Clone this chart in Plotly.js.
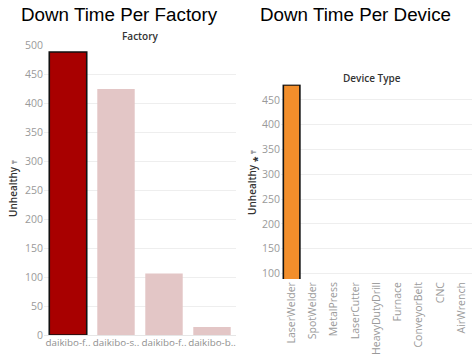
<!DOCTYPE html>
<html>
<head>
<meta charset="utf-8">
<script src="https://cdn.plot.ly/plotly-3.0.1.min.js"></script>
<style>html,body{margin:0;padding:0;background:#fff;}#chart{width:474px;height:357px;}</style>
</head>
<body>
<div id="chart"></div>
<script>
// Data
var factories = ["daikibo-f..a", "daikibo-s..", "daikibo-f..b", "daikibo-b.."];
var factoryLabels = ["daikibo-f..", "daikibo-s..", "daikibo-f..", "daikibo-b.."];
var factoryDowntime = [488, 424, 106, 14];
var devices = ["LaserWelder", "SpotWelder", "MetalPress", "LaserCutter", "HeavyDutyDrill", "Furnace", "ConveyorBelt", "CNC", "AirWrench"];
var deviceDowntime = [480, 0, 0, 0, 0, 0, 0, 0, 0];

var factoryColors = factoryDowntime.map(function(v, i){ return i === 0 ? "#a80000" : "#e3c6c6"; });
var factoryLines = factoryDowntime.map(function(v, i){ return i === 0 ? 1.6 : 0; });
var deviceColors = devices.map(function(){ return "#f28e2b"; });

var tickFont = {family: "Open Sans, sans-serif", size: 10.5, color: "#9a9a9a"};
var xTickFont = {family: "Open Sans, sans-serif", size: 9.8, color: "#8f8f8f"};
var titleFont = {family: "Open Sans, sans-serif", size: 10, color: "#333", weight: 600};
var bigFont = {family: "Liberation Sans, Arial, sans-serif", size: 18.8, color: "#000"};

var data = [
  {type: "bar", x: factories, y: factoryDowntime, xaxis: "x", yaxis: "y",
   marker: {color: factoryColors, line: {color: "#111", width: factoryLines}}, hoverinfo: "none"},
  {type: "bar", x: devices, y: deviceDowntime, xaxis: "x2", yaxis: "y2",
   marker: {color: deviceColors, line: {color: "#111", width: 1.6}}, hoverinfo: "none"}
];

var H = 357, W = 474;
function py(p){ return 1 - p / H; }
function px(p){ return p / W; }

var icon = '<span style="font-size:7px;font-weight:normal;color:#666">₸</span>';

var layout = {
  width: W, height: H,
  margin: {l: 0, r: 0, t: 0, b: 0},
  paper_bgcolor: "#fff", plot_bgcolor: "#fff",
  showlegend: false,
  bargap: 0.22,
  xaxis: {domain: [px(44), px(236)], anchor: "y", tickfont: xTickFont, showgrid: false, tickangle: 0,
          tickvals: factories, ticktext: factoryLabels, ticks: "", showline: false, fixedrange: true},
  yaxis: {domain: [py(335), py(45)], anchor: "x", range: [0, 500], dtick: 50,
          tickfont: tickFont, gridcolor: "#eeeeee", gridwidth: 1, zeroline: true, zerolinecolor: "#e6e6e6",
          ticks: "", showline: false},
  xaxis2: {domain: [px(281), px(472)], anchor: "y2", tickfont: tickFont, showgrid: false,
           tickangle: -90, ticks: "", showline: false},
  yaxis2: {domain: [py(279), py(84.5)], anchor: "x2", range: [89, 481], tickvals: [100,150,200,250,300,350,400,450],
           tickfont: tickFont, gridcolor: "#eeeeee", gridwidth: 1, zeroline: false, ticks: "", showline: false},
  annotations: [
    {text: "Down Time Per Factory", xref: "paper", yref: "paper", x: px(119), y: py(15), showarrow: false,
     xanchor: "center", yanchor: "middle", font: bigFont},
    {text: "Down Time Per Device", xref: "paper", yref: "paper", x: px(355), y: py(15), showarrow: false,
     xanchor: "center", yanchor: "middle", font: bigFont},
    {text: "Factory", xref: "paper", yref: "paper", x: px(140), y: py(36), showarrow: false,
     xanchor: "center", yanchor: "middle", font: titleFont},
    {text: "Device Type", xref: "paper", yref: "paper", x: px(372), y: py(78), showarrow: false,
     xanchor: "center", yanchor: "middle", font: titleFont},
    {text: "Unhealthy " + icon, xref: "paper", yref: "paper", x: px(13), y: py(189), showarrow: false, textangle: -90,
     xanchor: "center", yanchor: "middle", font: titleFont},
    {text: "Unhealthy ⁎ " + icon, xref: "paper", yref: "paper", x: px(252), y: py(182), showarrow: false, textangle: -90,
     xanchor: "center", yanchor: "middle", font: titleFont}
  ]
};

Plotly.newPlot("chart", data, layout, {displayModeBar: false, staticPlot: true});
</script>
</body>
</html>
